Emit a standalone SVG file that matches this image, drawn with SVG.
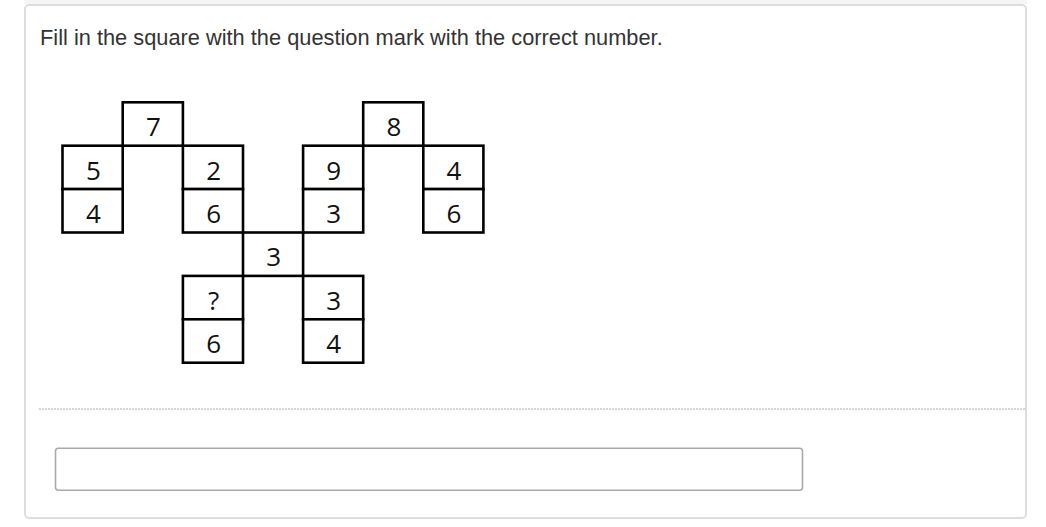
<svg xmlns="http://www.w3.org/2000/svg" width="1046" height="527" viewBox="0 0 1046 527">
  <style>
    .panel { fill: #ffffff; stroke: #dddddd; stroke-width: 2; }
    .title { font-family: "Liberation Sans", Arial, sans-serif; font-size: 21.8px; fill: #333333; }
    .cell rect { fill: #ffffff; stroke: #000000; stroke-width: 2.6; }
    .cell text { font-family: "Open Sans", "Noto Sans", sans-serif; font-size: 26px; fill: #111111; text-anchor: middle; }
    .sep { stroke: #c8c8c8; stroke-width: 1.6; stroke-dasharray: 2 1; }
    .answer { fill: #ffffff; stroke: #a9a9a9; stroke-width: 1.6; }
  </style>
  <rect x="0" y="0" width="1046" height="527" fill="#ffffff"/>
  <rect x="24" y="0" width="1003" height="4" fill="#f5f5f5"/>
  <rect class="panel" x="25" y="5" width="1001" height="513" rx="4"/>
  <text class="title" x="40" y="45">Fill in the square with the question mark with the correct number.</text>

  <g id="puzzle">
    <g id="cell-7" class="cell"><rect x="122.7" y="102.3" width="60.2" height="43.4"/><text x="153.5" y="136">7</text></g>
    <g id="cell-8" class="cell"><rect x="363.2" y="102.3" width="60.1" height="43.4"/><text x="393.9" y="136">8</text></g>

    <g id="cell-5" class="cell"><rect x="62.5" y="145.7" width="60.2" height="43.4"/><text x="93.4" y="179.5">5</text></g>
    <g id="cell-4a" class="cell"><rect x="62.5" y="189.1" width="60.2" height="43.4"/><text x="93.4" y="222.9">4</text></g>

    <g id="cell-2" class="cell"><rect x="182.9" y="145.7" width="60.1" height="43.4"/><text x="213.6" y="179.5">2</text></g>
    <g id="cell-6a" class="cell"><rect x="182.9" y="189.1" width="60.1" height="43.4"/><text x="213.6" y="222.9">6</text></g>

    <g id="cell-9" class="cell"><rect x="303.1" y="145.7" width="60.1" height="43.4"/><text x="333.8" y="179.5">9</text></g>
    <g id="cell-3a" class="cell"><rect x="303.1" y="189.1" width="60.1" height="43.4"/><text x="333.8" y="222.9">3</text></g>

    <g id="cell-4b" class="cell"><rect x="423.3" y="145.7" width="60.1" height="43.4"/><text x="454" y="179.5">4</text></g>
    <g id="cell-6b" class="cell"><rect x="423.3" y="189.1" width="60.1" height="43.4"/><text x="454" y="222.9">6</text></g>

    <g id="cell-3b" class="cell"><rect x="243" y="232.5" width="60.1" height="43.4"/><text x="273.7" y="266.3">3</text></g>

    <g id="cell-q" class="cell"><rect x="182.9" y="275.9" width="60.1" height="43.4"/><text x="213.6" y="309.7">?</text></g>
    <g id="cell-6c" class="cell"><rect x="182.9" y="319.3" width="60.1" height="43.4"/><text x="213.6" y="353.1">6</text></g>

    <g id="cell-3c" class="cell"><rect x="303.1" y="275.9" width="60.1" height="43.4"/><text x="333.8" y="309.7">3</text></g>
    <g id="cell-4c" class="cell"><rect x="303.1" y="319.3" width="60.1" height="43.4"/><text x="333.8" y="353.1">4</text></g>
  </g>

  <g id="connectors"></g>

  <line class="sep" x1="39" y1="409" x2="1026" y2="409"/>
  <rect id="answer-box" class="answer" x="55.5" y="448.2" width="747" height="42" rx="3"/>
</svg>
